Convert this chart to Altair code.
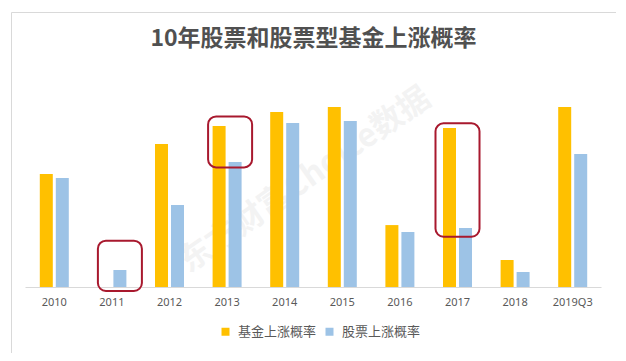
import altair as alt
import pandas as pd

# ---- data ----
years = ["2010", "2011", "2012", "2013", "2014", "2015", "2016", "2017", "2018", "2019Q3"]
fund_up = [62.4, 0.0, 78.8, 88.7, 96.4, 99.2, 34.3, 87.6, 15.1, 99.2]
stock_up = [60.2, 9.6, 45.3, 69.0, 90.4, 91.5, 30.5, 32.7, 8.5, 73.4]
series = ["基金上涨概率", "股票上涨概率"]
series_colors = ["#FFC000", "#9DC3E6"]

highlight_years = ["2011", "2013", "2017"]
highlight_low = [-1.9, 66.0, 27.9]
highlight_high = [25.7, 94.0, 90.2]

title_text = "10年股票和股票型基金上涨概率"
watermark_text = "东方财富Choice数据"

# ---- build tables ----
rows = []
for i, y in enumerate(years):
    rows.append({"year": y, "series": series[0], "value": fund_up[i]})
    rows.append({"year": y, "series": series[1], "value": stock_up[i]})
bars_df = pd.DataFrame(rows)

FONT = "Noto Sans CJK SC"

x_scale = alt.Scale(domain=years, paddingInner=0, paddingOuter=0.2517)
y_scale = alt.Scale(domain=[-36.0, 151.4], nice=False, zero=False)

bars = alt.Chart(bars_df).mark_bar().encode(
    x=alt.X("year:N", scale=x_scale, sort=years,
            axis=alt.Axis(title=None, orient="bottom", offset=-65.5, domain=False,
                          ticks=False, tickSize=0, labelPadding=9, labelAngle=0,
                          labelFont="Noto Sans", labelFontSize=11, labelColor="#595959",
                          grid=False)),
    xOffset=alt.XOffset("series:N", sort=series,
                        scale=alt.Scale(domain=series, paddingInner=0.1875, paddingOuter=0.894)),
    y=alt.Y("value:Q", scale=y_scale, axis=None),
    y2=alt.datum(0),
    color=alt.Color("series:N", sort=series,
                    scale=alt.Scale(domain=series, range=series_colors),
                    legend=alt.Legend(orient="none", legendX=208, legendY=313,
                                      direction="horizontal", title=None,
                                      symbolType="square", symbolSize=64,
                                      symbolStrokeWidth=0,
                                      labelFont=FONT, labelFontSize=13,
                                      labelColor="#595959", labelOffset=6,
                                      columnPadding=6, padding=0)),
)

baseline = alt.Chart(pd.DataFrame({"v": [0]})).mark_rule(color="#d9d9d9", strokeWidth=1).encode(
    x=alt.XDatum(years[0], bandPosition=0),
    x2=alt.X2Datum(years[-1], bandPosition=1),
    y=alt.YDatum(0),
)

watermark = alt.Chart(pd.DataFrame({"v": [0]})).mark_text(
    text=watermark_text, angle=325, fontSize=32, fontWeight="bold",
    color="#808080", opacity=0.09, font=FONT,
).encode(x=alt.value(294), y=alt.value(168))

box_nudge = {"2011": 8, "2013": 3, "2017": 0}
boxes = []
for yr, lo, hi in zip(highlight_years, highlight_low, highlight_high):
    df = pd.DataFrame({"year": [yr], "lo": [lo], "hi": [hi]})
    boxes.append(
        alt.Chart(df).mark_bar(filled=False, stroke="#A8192E", strokeWidth=2,
                               cornerRadius=8, width={"band": 0.764},
                               xOffset=box_nudge[yr]).encode(
            x=alt.X("year:N", sort=years),
            y=alt.Y("lo:Q"),
            y2=alt.Y2("hi:Q"),
        )
    )

chart = alt.layer(watermark, bars, baseline, *boxes).properties(
    width=605,
    height=341,
    padding={"left": 3, "top": 4, "right": 0, "bottom": 0},
    title=alt.TitleParams(title_text, fontSize=23, fontWeight="bold", color="#505050",
                          font=FONT, anchor="middle", offset=-39),
).configure_view(stroke="#d9d9d9", strokeWidth=1)

chart.save("out.html", embed_options={"renderer": "svg", "actions": False})
